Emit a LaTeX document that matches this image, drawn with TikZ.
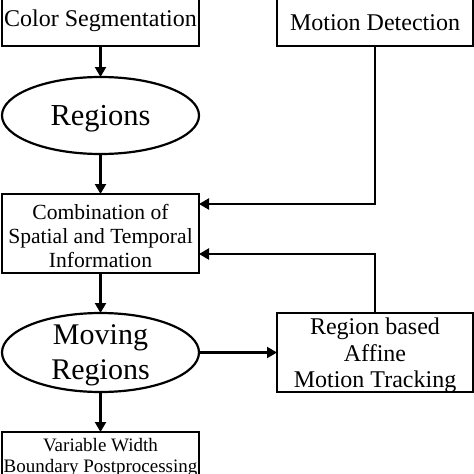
\documentclass[tikz,border=0pt]{standalone}
\usepackage{fontspec}
\setmainfont{Liberation Serif}
\usetikzlibrary{arrows.meta,calc,shapes.geometric}
\begin{document}
\begin{tikzpicture}[x=1pt,y=-1pt,
  every node/.style={inner sep=0pt,outer sep=0pt},
  boxn/.style={draw,rectangle,line width=2.2pt},
  ell/.style={draw,ellipse,line width=2.2pt},
  lbl/.style={align=center,yshift=-2.8pt,inner sep=0pt},
  arr/.style={line width=2.2pt,-{Triangle[length=10pt,width=11pt]}}]
\useasboundingbox (0,0) rectangle (474,474);
\clip (0,0) rectangle (474,474);
\node[boxn,minimum width=197pt,minimum height=56pt,
  label={[lbl,font=\fontsize{24}{26}\selectfont]center:{Color Segmentation}}] (cs) at (100.5,18) {};
\node[boxn,minimum width=196pt,minimum height=52pt,
  label={[lbl,font=\fontsize{24}{26}\selectfont]center:{Motion Detection}}] (md) at (375,20) {};
\node[ell,minimum width=197pt,minimum height=77pt,
  label={[lbl,font=\fontsize{30.5}{34}\selectfont]center:{Regions}}] (reg) at (100.5,115.5) {};
\node[boxn,minimum width=197pt,minimum height=79pt,
  label={[lbl,font=\fontsize{21.6}{24}\selectfont]center:{Combination of\\Spatial and Temporal\\Information}}] (comb) at (100.5,233.5) {};
\node[ell,minimum width=197pt,minimum height=79pt,
  label={[lbl,font=\fontsize{30}{35}\selectfont]center:{Moving\\Regions}}] (mr) at (100.5,352.5) {};
\node[boxn,minimum width=196pt,minimum height=79pt,
  label={[lbl,font=\fontsize{24}{26.5}\selectfont]center:{Region based\\Affine\\Motion Tracking}}] (rbt) at (375,352.5) {};
\node[boxn,minimum width=197pt,minimum height=46pt,
  label={[lbl,font=\fontsize{19}{21}\selectfont]center:{Variable Width\\Boundary Postprocessing}}] (vw) at (100.5,455) {};
\draw[arr] (cs.south) -- (reg.north);
\draw[arr] (reg.south) -- (comb.north);
\draw[arr] (md.south) |- ([yshift=29.5pt]comb.east);
\draw[arr] (rbt.north) |- ([yshift=-20.5pt]comb.east);
\draw[arr] (comb.south) -- (mr.north);
\draw[arr] (mr.east) -- (rbt.west);
\draw[arr] (mr.south) -- (vw.north);
\end{tikzpicture}
\end{document}
